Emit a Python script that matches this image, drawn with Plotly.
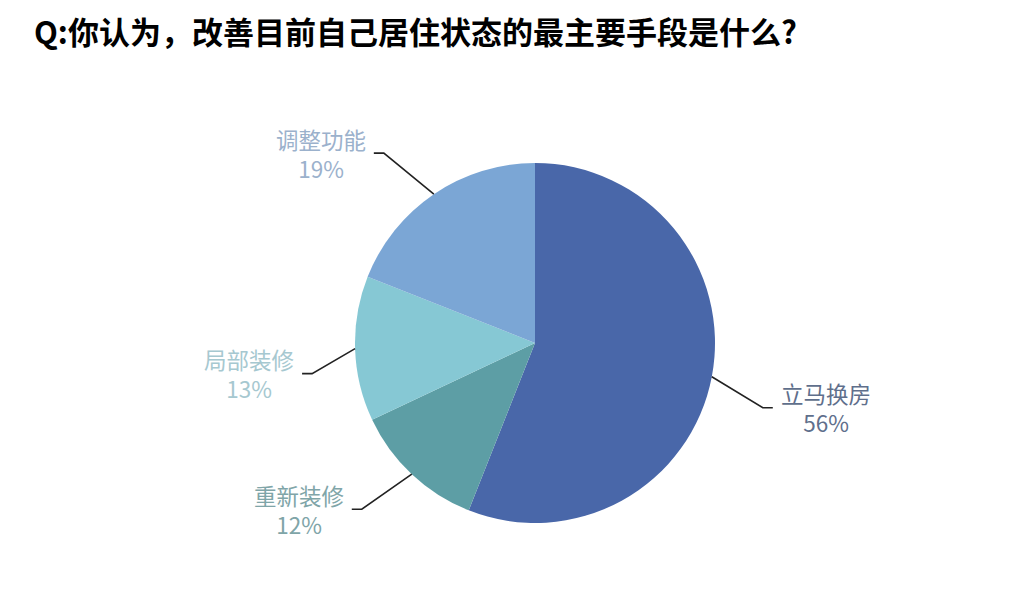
import math
import plotly.graph_objects as go

categories = ["立马换房", "重新装修", "局部装修", "调整功能"]
values = [56, 12, 13, 19]
slice_colors = ["#4967A9", "#5D9EA5", "#86C8D4", "#7BA6D5"]
label_colors = ["#5F6F8C", "#7FA5A8", "#A6C8D0", "#9BB1CC"]
title_text = "Q:你认为，改善目前自己居住状态的最主要手段是什么?"

W, H = 1012, 595
OFF = 8  # default page body margin
CX, CY, R = 535 - OFF, 343 - OFF, 180
# leader-line elbow offsets (pixels) from the slice edge, and horizontal tail length
elbow_off = [(51, 31), (-50, 35), (-43, 25), (-50, -41)]
TAIL = 10

fig = go.Figure(go.Pie(
    labels=categories, values=values, sort=False, direction="clockwise",
    rotation=0, marker=dict(colors=slice_colors, line=dict(width=0)),
    textinfo="none", hoverinfo="label+percent", showlegend=False,
    domain=dict(x=[(CX - R) / W, (CX + R) / W], y=[1 - (CY + R) / H, 1 - (CY - R) / H]),
))

def px(x):
    return x / W

def py(y):
    return 1 - y / H

total = sum(values)
cum = 0
shapes, annotations = [], []
for i, (cat, v) in enumerate(zip(categories, values)):
    mid = (cum + v / 2) / total * 360
    cum += v
    a = math.radians(90 - mid)
    sx = CX + R * math.cos(a)
    sy = CY - R * math.sin(a)
    ex, ey = sx + elbow_off[i][0], sy + elbow_off[i][1]
    side = 1 if ex > sx else -1
    tx = ex + side * TAIL
    path = f"M {px(sx)} {py(sy)} L {px(ex)} {py(ey)} L {px(tx)} {py(ey)}"
    shapes.append(dict(type="path", xref="paper", yref="paper", path=path,
                       line=dict(color="#222222", width=1.6)))
    annotations.append(dict(
        x=px(tx + side * 6), y=py(ey), xref="paper", yref="paper",
        xanchor="left" if side > 0 else "right", yanchor="middle",
        text=f"{cat}<br>{round(v / total * 100)}%", showarrow=False, align="center",
        font=dict(family="Noto Sans CJK SC, Noto Sans", size=22.5, color=label_colors[i]),
    ))

annotations.append(dict(
    x=px(32 - OFF), y=py(31 - OFF), xref="paper", yref="paper", xanchor="left", yanchor="middle",
    text=f"<b>{title_text}</b>", showarrow=False,
    font=dict(family="Noto Sans CJK SC, Noto Sans", size=31, color="#000000"),
))

fig.update_layout(
    width=W, height=H, margin=dict(l=0, r=0, t=0, b=0),
    paper_bgcolor="white", plot_bgcolor="white",
    shapes=shapes, annotations=annotations,
)

fig.write_html("out.html")
